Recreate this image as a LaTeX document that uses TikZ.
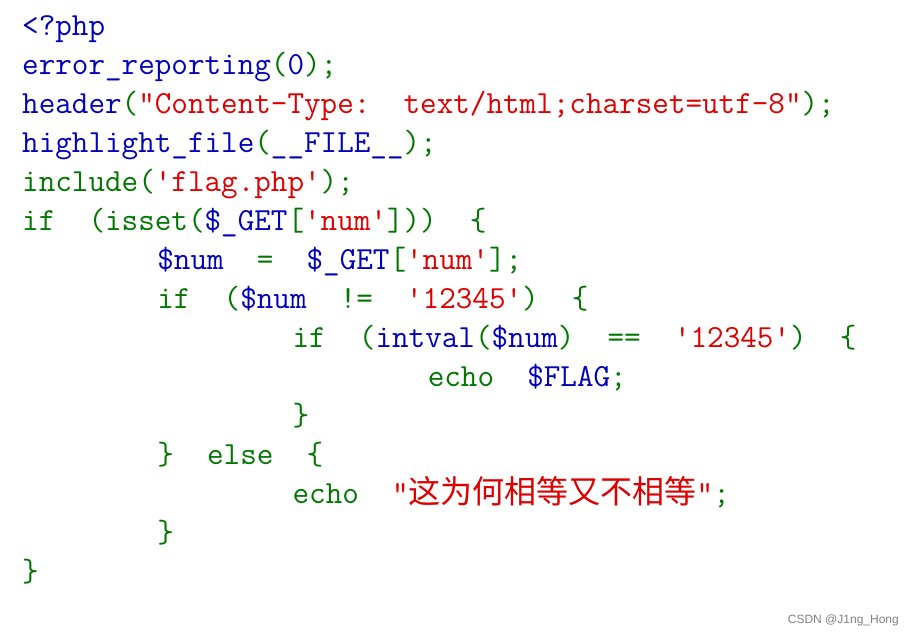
\documentclass[tikz,border=0pt]{standalone}
\usepackage{fontspec}
\setmainfont{Liberation Sans}
\newfontfamily\cjk{Noto Sans CJK SC}
\definecolor{kw}{HTML}{007700}
\definecolor{df}{HTML}{0000BB}
\definecolor{st}{HTML}{DD0000}
\newcommand{\K}[1]{\textcolor{kw}{#1}}
\newcommand{\D}[1]{\textcolor{df}{#1}}
\newcommand{\Sq}[1]{\textcolor{st}{#1}}
\tikzset{code/.style={anchor=base west,inner sep=0pt,font=\ttfamily\fontsize{32.2}{32}\selectfont}}
\begin{document}
\begin{tikzpicture}[x=1pt,y=1pt]
\useasboundingbox[fill=white] (0,0) rectangle (915,636);
\node[code] (l1) at (22,600) {\D{<?php}};
\node[code] (l2) at (22,561) {\D{error\_reporting}\K{(}\D{0}\K{);}};
\node[code] (l3) at (22,522) {\D{header}\K{(}\Sq{"Content-Type:~~text/html;charset=utf-8"}\K{);}};
\node[code] (l4) at (22,483) {\D{highlight\_file}\K{(}\D{\_\_FILE\_\_}\K{);}};
\node[code] (l5) at (22,444) {\K{include(}\Sq{'flag.php'}\K{);}};
\node[code] (l6) at (22,405) {\K{if~~(isset(}\D{\$\_GET}\K{[}\Sq{'num'}\K{]))~~\{}};
\node[code] (l7) at (157.2,366) {\D{\$num~~}\K{=~~}\D{\$\_GET}\K{[}\Sq{'num'}\K{];}};
\node[code] (l8) at (157.2,327) {\K{if~~(}\D{\$num~~}\K{!=~~}\Sq{'12345'}\K{)~~\{}};
\node[code] (l9) at (292.4,288) {\K{if~~(}\D{intval}\K{(}\D{\$num}\K{)~~==~~}\Sq{'12345'}\K{)~~\{}};
\node[code] (l10) at (427.6,249) {\K{echo~~}\D{\$FLAG}\K{;}};
\node[code] (l11) at (292.4,210) {\K{\}}};
\node[code] (l12) at (157.2,171) {\K{\}~~else~~\{}};
\node[code] (l13) at (292.4,132) {\K{echo~~}\Sq{"{\cjk\fontsize{32}{32}\selectfont 这为何相等又不相等}"}\K{;}};
\node[code] (l14) at (157.2,93) {\K{\}}};
\node[code] (l15) at (22,54) {\K{\}}};
\node[anchor=base east,inner sep=0pt,font=\fontsize{12}{12}\selectfont,text=gray] (wm) at (899,12) {CSDN @J1ng\_Hong};
\end{tikzpicture}
\end{document}
